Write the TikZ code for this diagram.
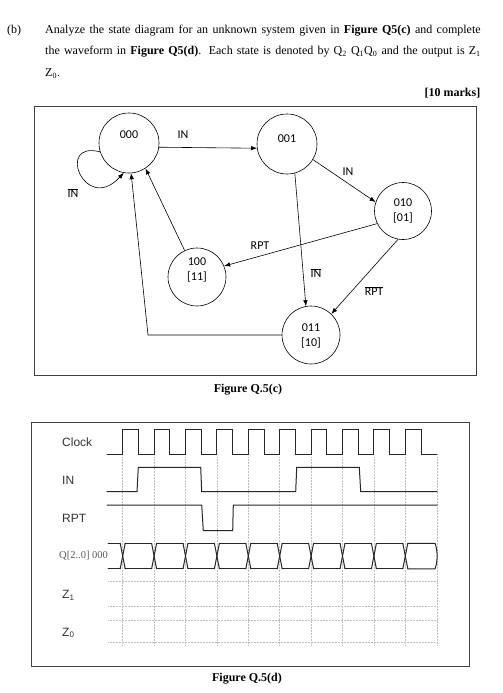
\documentclass[tikz,border=0pt]{standalone}
\usepackage{fontspec}
\setmainfont{Liberation Serif}
\newfontfamily\carl{Carlito}
\newfontfamily\arial{Liberation Sans}
\usetikzlibrary{arrows.meta}
\begin{document}
\begin{tikzpicture}[x=1pt,y=-1pt,
  body/.style={inner sep=0pt, anchor=base west, font=\fontsize{12}{14}\selectfont},
  stnode/.style={draw, circle, minimum size=58pt, inner sep=0pt, line width=0.6pt},
  sttext/.style={inner sep=0pt, align=center, font=\carl\fontsize{12}{15}\selectfont},
  edge/.style={-{Latex[length=6pt,width=4.5pt]}, line width=0.6pt},
  lbl/.style={inner sep=0pt, font=\carl\fontsize{12}{14}\selectfont},
  frame/.style={draw=black!75, line width=0.8pt},
  wave/.style={line width=1pt, line cap=round, black!85},
  gridl/.style={densely dotted, black!25, line width=0.5pt},
  wlbl/.style={inner sep=0pt, anchor=west, font=\arial\fontsize{12}{14}\selectfont, text=black!80}
]
\useasboundingbox (0,0) rectangle (503,693);
\fill[white] (0,0) rectangle (503,693);

% ---------- question text ----------
\node[body] (b) at (7,33.3) {(b)};
\node[body] (l1) at (45,33.3) {\makebox[435.5pt][s]{Analyze the state diagram for an unknown system given in \textbf{Figure Q5(c)} and complete}};
\node[body] (l2) at (45,55) {\makebox[435.5pt][s]{the waveform in \textbf{Figure Q5(d)}. Each state is denoted by Q\textsubscript{2} Q\textsubscript{1}Q\textsubscript{0} and the output is Z\textsubscript{1}}};
\node[body] (l3) at (45,76.5) {Z\textsubscript{0}.};
\node[body, anchor=base east] (marks) at (480.5,96.7) {\textbf{[10 marks]}};

% ---------- state diagram ----------
\draw[frame] (34,106) rectangle (476,375);
\node[stnode, minimum size=60pt] (s000) at (129,143) {};
\node[stnode, minimum size=60pt] (s001) at (287,144) {};
\node[stnode, minimum size=57pt] (s010) at (403,211) {};
\node[stnode] (s100) at (197,277) {};
\node[stnode] (s011) at (311,335) {};

\node[sttext] (t000) at (129,135) {000};
\node[sttext] (t001) at (287,138.5) {001};
\node[sttext] (t010) at (403,211) {010\\{}[01]};
\node[sttext] (t100) at (197,270) {100\\{}[11]};
\node[sttext] (t011) at (311,335.5) {011\\{}[10]};

\coordinate (bend) at (148,335);
\draw[edge] (s000.-8) -- (s001.-172);
\draw[edge] (s001.-31) -- (s010.162);
\draw[edge] (s001.-75) -- (s011.100);
\draw[edge] (s010.206) -- (s100.22);
\draw[edge] (s010.260) -- (s011.46);
\draw[edge] (s100.115) -- (s000.-57);
\draw[edge] (s011.west) -- (bend) -- (s000.-86);
\draw[edge] (s000.197) .. controls (55,140) and (85,215) .. (s000.-100);

\node[lbl] (e1) at (183,135) {IN};
\node[lbl] (e2) at (348,172) {IN};
\node[lbl] (e3) at (316,273) {$\overline{\mbox{IN}}$};
\node[lbl] (e4) at (260,246) {RPT};
\node[lbl] (e5) at (374,291) {$\overline{\mbox{RPT}}$};
\node[lbl] (e6) at (73,193) {$\overline{\mbox{IN}}$};

\node[inner sep=0pt, font=\bfseries\fontsize{12}{14}\selectfont] (capc) at (248,390) {Figure Q.5(c)};

% ---------- waveform ----------
\draw[frame] (31,422) rectangle (469,666);
\def\p{31.4}
\def\rz{122.7}

% grid
\foreach \k in {0,...,9} \draw[gridl] ({\rz+\p*\k},457) -- ({\rz+\p*\k},645);
\draw[gridl] (437.5,457) -- (437.5,645);
\foreach \yy in {581.5,606,620,642} \draw[gridl] (108,\yy) -- (438,\yy);

% labels
\node[wlbl] (wclk) at (62,442) {Clock};
\node[wlbl] (win) at (62,480) {IN};
\node[wlbl] (wrpt) at (62,518) {RPT};
\node[inner sep=0pt, anchor=west, font=\fontsize{10.5}{12}\selectfont, text=black!65] (wq) at (59,556) {Q[2..0] 000};
\node[wlbl] (wz1) at (62,595) {Z\textsubscript{1}};
\node[wlbl] (wz0) at (62,633) {Z\textsubscript{0}};

% clock
\draw[wave] (107,454) \foreach \k in {0,...,9}{ -- ({\rz+\p*\k},454) -- ({\rz+\p*\k},429) -- ({\rz+15.7+\p*\k},429) -- ({\rz+15.7+\p*\k},454)} -- (437,454);
% IN
\draw[wave] (107,491.7) -- (137,491.7) -- (138.3,467.3) -- (200.7,467.3) -- (201.7,491.7) -- (295.7,491.7) -- (296.7,467.3) -- (359.3,467.3) -- (360.7,491.7) -- (437,491.7);
% RPT
\draw[wave] (107,505) -- (201.7,505) -- (203.3,530.7) -- (232.7,530.7) -- (233.3,505) -- (437,505);
% bus
\draw[wave] (108,543.3) -- ({\rz-2.5},543.3);
\draw[wave] (108,568.8) -- ({\rz-2.5},568.8);
\foreach \k in {0,...,9} {
  \draw[wave] ({\rz+\p*\k-2.5},543.3) -- ({\rz+\p*\k+2.5},568.8);
  \draw[wave] ({\rz+\p*\k-2.5},568.8) -- ({\rz+\p*\k+2.5},543.3);
}
\foreach \k in {0,...,8} {
  \draw[wave] ({\rz+\p*\k+2.5},543.3) -- ({\rz+\p*(\k+1)-2.5},543.3);
  \draw[wave] ({\rz+\p*\k+2.5},568.8) -- ({\rz+\p*(\k+1)-2.5},568.8);
}
\draw[wave] ({\rz+\p*9+2.5},543.3) -- (435,543.3) .. controls (437.8,550) and (437.8,562) .. (435,568.8) -- ({\rz+\p*9+2.5},568.8);

\node[inner sep=0pt, font=\bfseries\fontsize{12}{14}\selectfont] (capd) at (247,679) {Figure Q.5(d)};
\end{tikzpicture}
\end{document}
